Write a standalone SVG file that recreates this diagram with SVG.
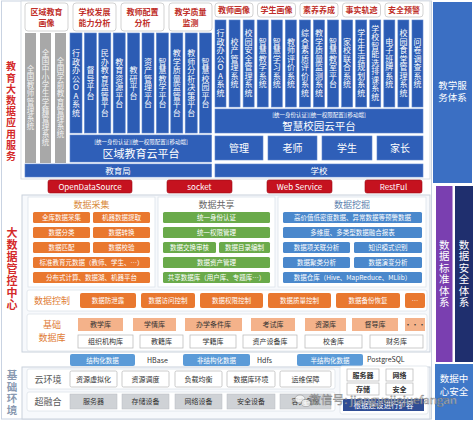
<svg xmlns="http://www.w3.org/2000/svg" width="474" height="421" viewBox="0 0 474 421">
<style>
text{font-family:"Noto Sans CJK SC","Liberation Sans",sans-serif}
.v{writing-mode:vertical-rl;text-orientation:upright}
.frame{fill:#f7f9fc;stroke:#c9d1dc;stroke-width:1}
.panel{fill:#ffffff;stroke:#dde3ea;stroke-width:0.8}
.hdr{fill:#ffffff;stroke:#c8c8c8;stroke-width:0.8}
.hdrt{fill:#c0302a;font-size:8px;font-weight:bold;text-anchor:middle}
.gcol{fill:#a8a8a8}
.gct{fill:#f4f4f4;font-size:7.5px;letter-spacing:0.6px;text-anchor:middle}
.bcol{fill:#2c5cb4;stroke:#5f86cc;stroke-width:0.6}
.bct{fill:#ffffff;font-size:8px;letter-spacing:0.5px;text-anchor:middle}
.bbox{fill:#2f5fb8;stroke:#5f86cc;stroke-width:0.6}
.wt{fill:#ffffff;text-anchor:middle}
.red{fill:#c5121f;stroke:#9a0a14;stroke-width:0.6}
.org{fill:#e9782f}
.grn{fill:#6aaa4a}
.blu{fill:#4a88cc}
.sal{fill:#f4b28a}
.wbox{fill:#ffffff;stroke:#b5b5b5;stroke-width:0.7}
.gbox{fill:#cfd2d6;stroke:#b8bcc2;stroke-width:0.5}
.st{font-size:6.5px;fill:#ffffff;text-anchor:middle}
.dt{font-size:7px;fill:#333;text-anchor:middle}
.side{font-weight:bold;text-anchor:middle}
</style>

<!-- outer frames -->
<rect x="1.5" y="1" width="430" height="418" fill="#ffffff" stroke="#c9d3e2" stroke-width="1"/>
<rect x="21" y="1" width="409" height="178" fill="#ffffff" stroke="#d0d6de" stroke-width="0.8"/>

<!-- left side labels -->
<g id="label-app"><text class="v side" x="11" y="112" font-size="10" fill="#d42a2a" style="letter-spacing:1.2px">教育大数据应用服务</text></g>
<g id="label-ctrl"><text class="v side" x="12" y="269" font-size="11" fill="#d42a2a" style="letter-spacing:1px">大数据管控中心</text></g>
<g id="label-env"><text class="v side" x="12" y="393" font-size="10.5" fill="#8898b0" style="letter-spacing:1.2px">基础环境</text></g>

<!-- region header boxes -->
<g id="hdr-1"><rect class="hdr" x="25" y="3" width="43" height="28" rx="3"/><text class="hdrt" x="46.5" y="15">区域教育</text><text class="hdrt" x="46.5" y="26">画像</text></g>
<g id="hdr-2"><rect class="hdr" x="73" y="3" width="43" height="28" rx="3"/><text class="hdrt" x="94.5" y="15">学校发展</text><text class="hdrt" x="94.5" y="26">能力分析</text></g>
<g id="hdr-3"><rect class="hdr" x="121" y="3" width="43" height="28" rx="3"/><text class="hdrt" x="142.5" y="15">教师配置</text><text class="hdrt" x="142.5" y="26">分析</text></g>
<g id="hdr-4"><rect class="hdr" x="169" y="3" width="43" height="28" rx="3"/><text class="hdrt" x="190.5" y="15">教学质量</text><text class="hdrt" x="190.5" y="26">监测</text></g>
<g id="hdr-5"><rect class="hdr" x="215" y="3" width="38" height="14" rx="3"/><text class="hdrt" x="234" y="13.3">教师画像</text></g>
<g id="hdr-6"><rect class="hdr" x="257.5" y="3" width="38" height="14" rx="3"/><text class="hdrt" x="276.5" y="13.3">学生画像</text></g>
<g id="hdr-7"><rect class="hdr" x="300" y="3" width="38" height="14" rx="3"/><text class="hdrt" x="319" y="13.3">素养养成</text></g>
<g id="hdr-8"><rect class="hdr" x="342.5" y="3" width="38" height="14" rx="3"/><text class="hdrt" x="361.5" y="13.3">事实轨迹</text></g>
<g id="hdr-9"><rect class="hdr" x="385" y="3" width="38" height="14" rx="3"/><text class="hdrt" x="404" y="13.3">安全预警</text></g>

<!-- gray national systems -->
<g id="gcol-1"><rect class="gcol" x="25" y="33" width="11" height="130"/><text class="v gct" x="30.5" y="98">全国教师管理系统</text></g>
<g id="gcol-2"><rect class="gcol" x="40" y="33" width="11" height="130"/><text class="v gct" x="45.5" y="98">全国中小学生学籍管理系统</text></g>
<g id="gcol-3"><rect class="gcol" x="55" y="33" width="11" height="130"/><text class="v gct" x="60.5" y="98">全国学前教育管理系统</text></g>

<!-- region blue columns -->
<g id="rcol-1"><rect class="bcol" x="70" y="33" width="12" height="100"/><text class="v bct" x="76" y="83">行政办公OA系统</text></g>
<g id="rcol-2"><rect class="bcol" x="84.4" y="33" width="12" height="100"/><text class="v bct" x="90.4" y="83">督导平台</text></g>
<g id="rcol-3"><rect class="bcol" x="98.8" y="33" width="12" height="100"/><text class="v bct" x="104.8" y="83">民办教育监管平台</text></g>
<g id="rcol-4"><rect class="bcol" x="113.2" y="33" width="12" height="100"/><text class="v bct" x="119.2" y="83">教育资源平台</text></g>
<g id="rcol-5"><rect class="bcol" x="127.6" y="33" width="12" height="100"/><text class="v bct" x="133.6" y="83">教研平台</text></g>
<g id="rcol-6"><rect class="bcol" x="142" y="33" width="12" height="100"/><text class="v bct" x="148" y="83">资产管理平台</text></g>
<g id="rcol-7"><rect class="bcol" x="156.4" y="33" width="12" height="100"/><text class="v bct" x="162.4" y="83">智慧教学平台</text></g>
<g id="rcol-8"><rect class="bcol" x="170.8" y="33" width="12" height="100"/><text class="v bct" x="176.8" y="83">教学质量监管平台</text></g>
<g id="rcol-9"><rect class="bcol" x="185.2" y="33" width="12" height="100"/><text class="v bct" x="191.2" y="83">教师分析决策平台</text></g>
<g id="rcol-10"><rect class="bcol" x="199.6" y="33" width="12" height="100"/><text class="v bct" x="205.6" y="83">智慧校园平台</text></g>

<g id="region-cloud"><rect class="bbox" x="70" y="135" width="141.6" height="27"/><text class="wt" x="141" y="143.5" font-size="5.5">[统一身份认证][统一权限配置][移动端]</text><text class="wt" x="141" y="157.5" font-size="11">区域教育云平台</text></g>
<g id="bureau"><rect class="bbox" x="25" y="164" width="186.6" height="13"/><text class="wt" x="118" y="173.8" font-size="8.5">教育局</text></g>

<!-- school blue columns -->
<g id="scol-1"><rect class="bcol" x="215" y="20" width="11" height="87"/><text class="v bct" x="220.5" y="63">行政办公OA系统</text></g>
<g id="scol-2"><rect class="bcol" x="229.07" y="20" width="11" height="87"/><text class="v bct" x="234.6" y="63">校产管理系统</text></g>
<g id="scol-3"><rect class="bcol" x="243.14" y="20" width="11" height="87"/><text class="v bct" x="248.6" y="63">校园安全管理系统</text></g>
<g id="scol-4"><rect class="bcol" x="257.21" y="20" width="11" height="87"/><text class="v bct" x="262.7" y="63">智慧教学系统</text></g>
<g id="scol-5"><rect class="bcol" x="271.28" y="20" width="11" height="87"/><text class="v bct" x="276.8" y="63">智慧学习系统</text></g>
<g id="scol-6"><rect class="bcol" x="285.35" y="20" width="11" height="87"/><text class="v bct" x="290.9" y="63">教师评价系统</text></g>
<g id="scol-7"><rect class="bcol" x="299.42" y="20" width="11" height="87"/><text class="v bct" x="304.9" y="63">综合素质评价系统</text></g>
<g id="scol-8"><rect class="bcol" x="313.49" y="20" width="11" height="87"/><text class="v bct" x="319" y="63">教学质量监测系统</text></g>
<g id="scol-9"><rect class="bcol" x="327.56" y="20" width="11" height="87"/><text class="v bct" x="333.1" y="63">智慧教室平台</text></g>
<g id="scol-10"><rect class="bcol" x="341.63" y="20" width="11" height="87"/><text class="v bct" x="347.1" y="63">家校联合系统</text></g>
<g id="scol-11"><rect class="bcol" x="355.7" y="20" width="11" height="87"/><text class="v bct" x="361.2" y="63">学生生涯规划系统</text></g>
<g id="scol-12"><rect class="bcol" x="369.77" y="20" width="11" height="87"/><text class="v bct" x="375.3" y="63">学校智能选排课系统</text></g>
<g id="scol-13"><rect class="bcol" x="383.84" y="20" width="11" height="87"/><text class="v bct" x="389.3" y="63">电子班牌系统</text></g>
<g id="scol-14"><rect class="bcol" x="397.91" y="20" width="11" height="87"/><text class="v bct" x="403.4" y="63">校园食堂管理系统</text></g>
<g id="scol-15"><rect class="bcol" x="411.98" y="20" width="11" height="87"/><text class="v bct" x="417.5" y="63">问卷调查系统</text></g>

<g id="school-cloud"><rect class="bbox" x="215" y="109" width="208" height="24"/><text class="wt" x="319" y="116.5" font-size="5.5">[统一身份认证][统一权限配置][移动端]</text><text class="wt" x="319" y="129.5" font-size="10.5">智慧校园云平台</text></g>
<g id="role-1"><rect class="bbox" x="215" y="136" width="48" height="24"/><text class="wt" x="239" y="151.5" font-size="10">管理</text></g>
<g id="role-2"><rect class="bbox" x="268" y="136" width="49" height="24"/><text class="wt" x="292.5" y="151.5" font-size="10">老师</text></g>
<g id="role-3"><rect class="bbox" x="322" y="136" width="50" height="24"/><text class="wt" x="347" y="151.5" font-size="10">学生</text></g>
<g id="role-4"><rect class="bbox" x="377" y="136" width="46" height="24"/><text class="wt" x="400" y="151.5" font-size="10">家长</text></g>
<g id="school"><rect class="bbox" x="215" y="164" width="208" height="13"/><text class="wt" x="319" y="173.8" font-size="8.5">学校</text></g>

<!-- right side systems -->
<g id="teach-service"><rect x="433" y="2" width="39" height="181" fill="#3b6fc3"/><text class="wt" x="452.5" y="89" font-size="9.5">教学服</text><text class="wt" x="452.5" y="101" font-size="9.5">务体系</text></g>
<g id="data-standard"><rect x="436" y="186" width="16.5" height="176" fill="#7a3fb0"/><text class="v wt" x="444.3" y="274" font-size="10.5" style="letter-spacing:1px">数据标准体系</text></g>
<g id="data-security"><rect x="455" y="186" width="18" height="176" fill="#1f2f6e"/><text class="v wt" x="464" y="274" font-size="10.5" style="letter-spacing:1px">数据安全体系</text></g>
<g id="dc-security"><rect x="435" y="364" width="38" height="56" fill="#3f78c8"/><text class="wt" x="454" y="382" font-size="9.5">数据中</text><text class="wt" x="454" y="395" font-size="9.5">心安全</text></g>

<!-- interfaces -->
<g id="if-ods"><rect class="red" x="48" y="180" width="84" height="13" rx="2"/><text class="wt" x="90" y="189.8" font-size="8" font-family="Liberation Sans">OpenDataSource</text></g>
<g id="if-socket"><rect class="red" x="167" y="180" width="65" height="13" rx="2"/><text class="wt" x="199.5" y="189.8" font-size="8" font-family="Liberation Sans">socket</text></g>
<g id="if-ws"><rect class="red" x="267" y="180" width="65" height="13" rx="2"/><text class="wt" x="299.5" y="189.8" font-size="8" font-family="Liberation Sans">Web Service</text></g>
<g id="if-rest"><rect class="red" x="365" y="180" width="57" height="13" rx="2"/><text class="wt" x="393.5" y="189.8" font-size="8" font-family="Liberation Sans">RestFul</text></g>

<!-- middle control center -->
<rect class="frame" x="22" y="195" width="408" height="157"/>

<g id="collect">
<rect class="panel" x="28" y="197" width="127" height="90"/>
<text x="91.5" y="208" font-size="9" fill="#d98a3c" text-anchor="middle">数据采集</text>
<rect class="org" x="33" y="212" width="57" height="11" rx="1.5"/><text class="st" x="61.5" y="220">全库数据采集</text>
<rect class="org" x="93" y="212" width="57" height="11" rx="1.5"/><text class="st" x="121.5" y="220">机器数据提取</text>
<rect class="org" x="33" y="227" width="57" height="11" rx="1.5"/><text class="st" x="61.5" y="235">数据分类</text>
<rect class="org" x="93" y="227" width="57" height="11" rx="1.5"/><text class="st" x="121.5" y="235">数据转换</text>
<rect class="org" x="33" y="242" width="57" height="11" rx="1.5"/><text class="st" x="61.5" y="250">数据匹配</text>
<rect class="org" x="93" y="242" width="57" height="11" rx="1.5"/><text class="st" x="121.5" y="250">数据校验</text>
<rect class="org" x="33" y="257" width="117" height="11" rx="1.5"/><text class="st" x="91.5" y="265">标准教育元数据（教师、学生、…）</text>
<rect class="org" x="33" y="272" width="117" height="11" rx="1.5"/><text class="st" x="91.5" y="280">分布式计算、数据湖、机器平台</text>
</g>

<g id="share">
<rect class="panel" x="158" y="197" width="117" height="90"/>
<text x="216.5" y="208" font-size="9" fill="#666" text-anchor="middle">数据共享</text>
<rect class="grn" x="163" y="212" width="107" height="11" rx="1.5"/><text class="st" x="216.5" y="220">统一身份认证</text>
<rect class="grn" x="163" y="227" width="107" height="11" rx="1.5"/><text class="st" x="216.5" y="235">统一权限管理</text>
<rect class="grn" x="163" y="242" width="53" height="11" rx="1.5"/><text class="st" x="189.5" y="250">数据交换审核</text>
<rect class="grn" x="219" y="242" width="51" height="11" rx="1.5"/><text class="st" x="244.5" y="250">数据目录编制</text>
<rect class="grn" x="163" y="257" width="107" height="11" rx="1.5"/><text class="st" x="216.5" y="265">数据资产管理</text>
<rect class="grn" x="163" y="272" width="107" height="11" rx="1.5"/><text class="st" x="216.5" y="280">共享数据库（用户库、专题库…）</text>
</g>

<g id="mining">
<rect class="panel" x="278" y="197" width="148" height="90"/>
<text x="352" y="208" font-size="9" fill="#5b7fae" text-anchor="middle">数据挖掘</text>
<rect class="blu" x="283" y="212" width="139" height="11" rx="1.5"/><text class="st" x="352.5" y="220">高价值低密度数据、异常数据等预警数据</text>
<rect class="blu" x="283" y="227" width="139" height="11" rx="1.5"/><text class="st" x="352.5" y="235">多维度、多类型数据融合报表</text>
<rect class="blu" x="283" y="242" width="67" height="11" rx="1.5"/><text class="st" x="316.5" y="250">数据项关联分析</text>
<rect class="blu" x="354" y="242" width="68" height="11" rx="1.5"/><text class="st" x="388" y="250">知识模式识别</text>
<rect class="blu" x="283" y="257" width="67" height="11" rx="1.5"/><text class="st" x="316.5" y="265">数据聚类分析</text>
<rect class="blu" x="354" y="257" width="68" height="11" rx="1.5"/><text class="st" x="388" y="265">数据演变分析</text>
<rect class="blu" x="283" y="272" width="139" height="11" rx="1.5"/><text class="st" x="352.5" y="280">数据仓库（Hive、MapReduce、MLlib）</text>
</g>

<g id="control">
<rect class="panel" x="27" y="290" width="400" height="21" rx="2"/>
<text x="52" y="304" font-size="9" fill="#e07b35" text-anchor="middle">数据控制</text>
<rect class="org" x="80" y="293" width="56" height="15" rx="2"/><text class="st" x="108" y="303">数据防泄露</text>
<rect class="org" x="141" y="293" width="54" height="15" rx="2"/><text class="st" x="168" y="303">数据访问控制</text>
<rect class="org" x="200" y="293" width="63" height="15" rx="2"/><text class="st" x="231.5" y="303">数据权限控制</text>
<rect class="org" x="268" y="293" width="63" height="15" rx="2"/><text class="st" x="299.5" y="303">数据质量控制</text>
<rect class="org" x="336" y="293" width="64" height="15" rx="2"/><text class="st" x="368" y="303">数据备份恢复</text>
<rect class="org" x="405" y="293" width="20" height="15" rx="2"/><text class="st" x="415" y="303">…</text>
</g>

<g id="basedb">
<rect class="panel" x="27" y="314" width="400" height="37" rx="2"/>
<text x="52" y="328" font-size="9" fill="#e07b35" text-anchor="middle">基础</text>
<text x="52" y="341" font-size="9" fill="#e07b35" text-anchor="middle">数据库</text>
<rect class="sal" x="78" y="318" width="45" height="13"/><text class="dt" x="100.5" y="327.3" fill="#6b3318">教学库</text>
<rect class="sal" x="133" y="318" width="43" height="13"/><text class="dt" x="154.5" y="327.3" fill="#6b3318">学情库</text>
<rect class="sal" x="185" y="318" width="57" height="13"/><text class="dt" x="213.5" y="327.3" fill="#6b3318">办学条件库</text>
<rect class="sal" x="251" y="318" width="44" height="13"/><text class="dt" x="273" y="327.3" fill="#6b3318">考试库</text>
<rect class="sal" x="305" y="318" width="41" height="13"/><text class="dt" x="325.5" y="327.3" fill="#6b3318">资源库</text>
<rect class="sal" x="352" y="318" width="46" height="13"/><text class="dt" x="375" y="327.3" fill="#6b3318">督导库</text>
<rect class="sal" x="405" y="318" width="20" height="13"/><text class="dt" x="415" y="327.3" fill="#6b3318">•••</text>
<rect class="wbox" x="78" y="335" width="55" height="13"/><text class="dt" x="105.5" y="344.3">组织机构库</text>
<rect class="wbox" x="140" y="335" width="43" height="13"/><text class="dt" x="161.5" y="344.3">教籍库</text>
<rect class="wbox" x="190" y="335" width="46" height="13"/><text class="dt" x="213" y="344.3">学籍库</text>
<rect class="wbox" x="243" y="335" width="54" height="13"/><text class="dt" x="270" y="344.3">资产设备库</text>
<rect class="wbox" x="305" y="335" width="57" height="13"/><text class="dt" x="333.5" y="344.3">校舍库</text>
<rect class="wbox" x="370" y="335" width="53" height="13"/><text class="dt" x="396.5" y="344.3">财务库</text>
</g>

<!-- storage types -->
<g id="store-1"><rect x="70" y="354" width="65" height="12" rx="2" fill="#5b9bd8"/><text class="st" x="102.5" y="362.5">结构化数据</text><text x="147" y="362.5" font-size="7" fill="#333" font-family="Liberation Sans">HBase</text></g>
<g id="store-2"><rect x="183" y="354" width="67" height="12" rx="2" fill="#5b9bd8"/><text class="st" x="216.5" y="362.5">非结构化数据</text><text x="257" y="362.5" font-size="7" fill="#333" font-family="Liberation Sans">Hdfs</text></g>
<g id="store-3"><rect x="297" y="354" width="66" height="12" rx="2" fill="#5b9bd8"/><text class="st" x="330" y="362.5">半结构化数据</text><text x="367" y="362" font-size="7" fill="#333" font-family="Liberation Sans">PostgreSQL</text></g>

<!-- base environment -->
<rect class="frame" x="22" y="367" width="408" height="52" fill="#f8f9fb"/>
<g id="cloud-env">
<rect class="panel" x="27" y="369" width="308" height="20" rx="2"/>
<text x="48" y="382.5" font-size="9" fill="#555" text-anchor="middle">云环境</text>
<rect class="wbox" x="70" y="371" width="47" height="16" rx="1.5"/><text class="dt" x="93.5" y="381.5">资源虚拟化</text>
<rect class="wbox" x="122" y="371" width="47" height="16" rx="1.5"/><text class="dt" x="145.5" y="381.5">资源调度</text>
<rect class="wbox" x="175" y="371" width="47" height="16" rx="1.5"/><text class="dt" x="198.5" y="381.5">负载均衡</text>
<rect class="wbox" x="227" y="371" width="48" height="16" rx="1.5"/><text class="dt" x="251" y="381.5">数据库环境</text>
<rect class="wbox" x="280" y="371" width="51" height="16" rx="1.5"/><text class="dt" x="305.5" y="381.5">运维保障</text>
</g>
<g id="hyper">
<rect class="panel" x="27" y="392" width="308" height="19" rx="2"/>
<text x="48" y="405" font-size="9" fill="#555" text-anchor="middle">超融合</text>
<rect class="gbox" x="70" y="394" width="47" height="15"/><text class="dt" x="93.5" y="404">服务器</text>
<rect class="gbox" x="122" y="394" width="47" height="15"/><text class="dt" x="145.5" y="404">存储设备</text>
<rect class="gbox" x="175" y="394" width="47" height="15"/><text class="dt" x="198.5" y="404">网络设备</text>
<rect class="gbox" x="227" y="394" width="48" height="15"/><text class="dt" x="251" y="404">安全设备</text>
<rect class="gbox" x="280" y="394" width="51" height="15"/><text class="dt" x="305.5" y="404">容灾备份</text>
</g>
<g id="expand">
<rect class="panel" x="340" y="366" width="88" height="48" rx="2"/>
<rect class="wbox" x="347" y="369" width="32" height="12"/><text class="dt" x="363" y="377.8" font-weight="bold">服务器</text>
<rect class="wbox" x="386" y="369" width="27" height="12"/><text class="dt" x="399.5" y="377.8" font-weight="bold">网络</text>
<rect class="wbox" x="347" y="383" width="32" height="12"/><text class="dt" x="363" y="391.8" font-weight="bold">存储</text>
<rect class="wbox" x="386" y="383" width="27" height="12"/><text class="dt" x="399.5" y="391.8" font-weight="bold">安全</text>
<rect x="343" y="399" width="81" height="12" fill="#2f4d95"/><text class="wt" x="383.5" y="408" font-size="7.5">根据建设进行扩容</text>
</g>

<g id="connectors"></g>

<!-- watermark -->
<g opacity="0.8">
<ellipse cx="300" cy="399" rx="5" ry="4" fill="#fafafa" stroke="#888" stroke-width="0.6"/>
<ellipse cx="306" cy="403" rx="4.5" ry="3.6" fill="#fafafa" stroke="#888" stroke-width="0.6"/>
<text x="309" y="404" font-size="11" fill="#f4f4f4" stroke="#666" stroke-width="0.45" textLength="148" lengthAdjust="spacingAndGlyphs">微信号: jiangyejiejuefangan</text>
</g>
</svg>
